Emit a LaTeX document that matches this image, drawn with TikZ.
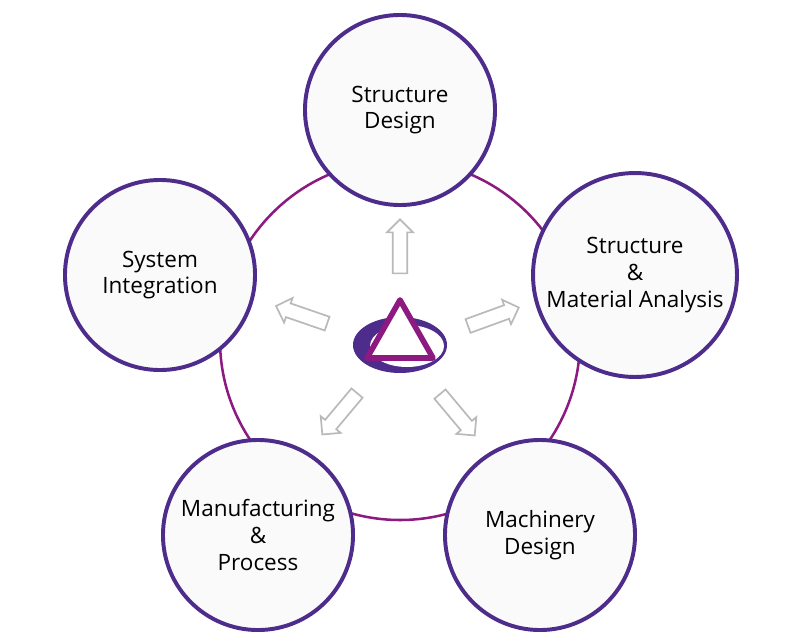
\documentclass[tikz,border=0pt]{standalone}
\usepackage{fontspec}
\setmainfont{Open Sans}
\usetikzlibrary{shapes.arrows}
\definecolor{ringmag}{HTML}{8C1A80}
\definecolor{nodepur}{HTML}{4E2C8C}
\tikzset{
    topic/.style={circle, draw=nodepur, line width=2.8pt, fill=gray!4, minimum size=4.75cm, align=center, font=\fontsize{16}{19}\selectfont},
    hint/.style={single arrow, draw=gray!55, line width=1.2pt, fill=white, minimum height=1.35cm, minimum width=0.65cm, single arrow head extend=0.08cm, single arrow head indent=0cm, inner sep=0.08cm}
}
\begin{document}
\begin{tikzpicture}[x=0.025cm,y=-0.025cm]
    \useasboundingbox (0,0) rectangle (800,638);
    % Ring
    \draw[ringmag, line width=1.8pt] (400,340) circle (180);

    % Topic circles
    \node[topic] (sd) at (400,110) {Structure\\Design};
    \node[topic] (sma) at (635,275) {Structure\\\&\\Material Analysis};
    \node[topic] (md) at (540,535) {Machinery\\Design};
    \node[topic] (mp) at (258,535) {Manufacturing\\\&\\Process};
    \node[topic] (si) at (160,275) {System\\Integration};

    % Arrows from the logo
    \foreach \x/\y/\a [count=\i] in {400/250/90, 305/316/161, 490/318/20, 342/411/230, 455/412/-50}
        \node[hint, rotate=\a] (arr\i) at (\x,\y) {};

    % Logo
    \fill[nodepur] (400,345) ellipse (47 and 28);
    \fill[white] (407,346) ellipse (37 and 21);
    \draw[ringmag, line width=4pt, line join=round, fill=white] (400,300) -- (433,358) -- (367,358) -- cycle;
\end{tikzpicture}
\end{document}
